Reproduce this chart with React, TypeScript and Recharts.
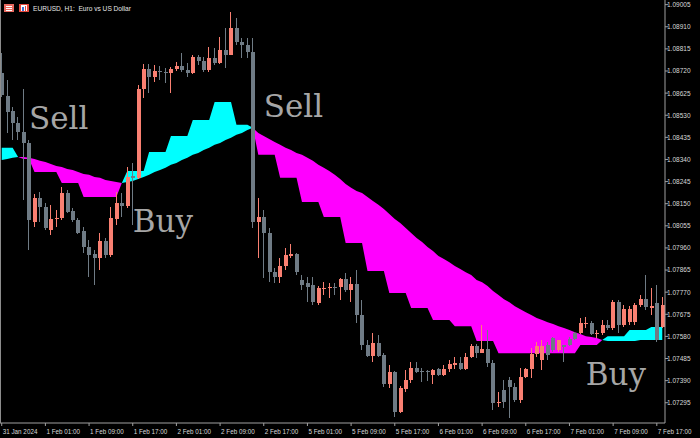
import React from 'react'
import { ComposedChart, Bar, Area, XAxis, YAxis, ReferenceDot } from 'recharts'

// EURUSD H1 candles, 31 Jan 17:00 .. 7 Feb 18:00
const open = [
  1.08712, 1.08613, 1.08549, 1.08497, 1.08458, 1.08411, 1.08071, 1.08175, 1.08136, 1.08037,
  1.08084, 1.08089, 1.08196, 1.08119, 1.0808, 1.08033, 1.07964, 1.07934, 1.07917, 1.0799,
  1.0793, 1.08084, 1.08153, 1.0814, 1.08269, 1.08261, 1.08643, 1.08729, 1.08695, 1.08721,
  1.08716, 1.08712, 1.08729, 1.08742, 1.08725, 1.08712, 1.08781, 1.08764, 1.08725, 1.08777,
  1.08755, 1.08811, 1.0879, 1.08906, 1.08845, 1.08833, 1.08802, 1.08071, 1.08093, 1.08024,
  1.07856, 1.07835, 1.07882, 1.07925, 1.07934, 1.07822, 1.07809, 1.07801, 1.07723, 1.07783,
  1.07788, 1.07792, 1.07792, 1.07826, 1.07779, 1.07805, 1.07672, 1.07543, 1.07495, 1.07551,
  1.075, 1.07375, 1.07426, 1.07254, 1.07353, 1.07392, 1.07444, 1.07431, 1.07431, 1.07414,
  1.07439, 1.07414, 1.07439, 1.07456, 1.07465, 1.07439, 1.07491, 1.07538, 1.07508, 1.07525,
  1.07465, 1.07293, 1.07349, 1.07392, 1.07362, 1.07306, 1.07405, 1.07439, 1.07504, 1.07478,
  1.07543, 1.07573, 1.07521, 1.07543, 1.07568, 1.07594, 1.07594, 1.07633, 1.07637, 1.0759,
  1.07594, 1.07629, 1.07616, 1.07727, 1.07629, 1.07641, 1.07641, 1.07715, 1.0774, 1.07702,
  1.07723, 1.0762,
]
const high = [
  1.08798, 1.08682, 1.08566, 1.08523, 1.08643, 1.08424, 1.08192, 1.082, 1.08153, 1.08145,
  1.08123, 1.08222, 1.08209, 1.08132, 1.08089, 1.0805, 1.07994, 1.07951, 1.08024, 1.08003,
  1.08136, 1.082, 1.08196, 1.08308, 1.08325, 1.08661, 1.08751, 1.08751, 1.08747, 1.08742,
  1.08734, 1.08738, 1.08759, 1.08798, 1.08755, 1.0879, 1.0879, 1.08781, 1.08824, 1.0882,
  1.08867, 1.08906, 1.08974, 1.08949, 1.08863, 1.08863, 1.08863, 1.08175, 1.08123, 1.08046,
  1.07874, 1.07917, 1.0796, 1.07977, 1.07938, 1.07844, 1.07835, 1.07835, 1.07796, 1.07813,
  1.07809, 1.07809, 1.07831, 1.07852, 1.07835, 1.07865, 1.07736, 1.07564, 1.07594, 1.07586,
  1.07508, 1.07456, 1.07431, 1.07366, 1.07435, 1.07469, 1.07469, 1.07444, 1.07435, 1.07439,
  1.07444, 1.07456, 1.07478, 1.07491, 1.07491, 1.07508, 1.07547, 1.07547, 1.07629, 1.07607,
  1.07478, 1.0734, 1.07392, 1.07405, 1.07379, 1.07444, 1.07444, 1.0753, 1.07555, 1.07564,
  1.07555, 1.07577, 1.07564, 1.07543, 1.07577, 1.07598, 1.07659, 1.07663, 1.07646, 1.07607,
  1.0765, 1.0765, 1.07736, 1.07736, 1.07715, 1.0771, 1.07723, 1.07758, 1.07844, 1.07788,
  1.07801, 1.07749,
]
const low = [
  1.08609, 1.08454, 1.08424, 1.08424, 1.08166, 1.07951, 1.0805, 1.08071, 1.08037, 1.08016,
  1.0805, 1.0808, 1.0811, 1.08071, 1.0802, 1.07938, 1.07835, 1.07801, 1.07865, 1.07917,
  1.07921, 1.08059, 1.08093, 1.08132, 1.08059, 1.08256, 1.08605, 1.08626, 1.08673, 1.08682,
  1.08669, 1.08626, 1.08721, 1.08716, 1.08695, 1.08708, 1.08747, 1.08716, 1.08716, 1.08747,
  1.08751, 1.08734, 1.0879, 1.08833, 1.08777, 1.08777, 1.08046, 1.07917, 1.07831, 1.07813,
  1.07809, 1.07809, 1.07865, 1.07917, 1.07844, 1.07779, 1.07727, 1.07715, 1.07715, 1.07758,
  1.07745, 1.07758, 1.07736, 1.0777, 1.07727, 1.07637, 1.07521, 1.07491, 1.07469, 1.07491,
  1.07362, 1.07358, 1.07233, 1.0725, 1.0734, 1.07379, 1.07422, 1.07383, 1.07388, 1.07375,
  1.07409, 1.07409, 1.07426, 1.07439, 1.07435, 1.07435, 1.07487, 1.07487, 1.07508, 1.07448,
  1.07263, 1.07276, 1.07272, 1.07229, 1.07297, 1.07293, 1.07401, 1.07401, 1.07491, 1.07435,
  1.07478, 1.07512, 1.07512, 1.07469, 1.07538, 1.07564, 1.0759, 1.07616, 1.07586, 1.07573,
  1.07586, 1.07607, 1.07607, 1.07594, 1.0762, 1.07629, 1.07629, 1.07706, 1.07693, 1.07672,
  1.07555, 1.07616,
]
const close = [
  1.08618, 1.08544, 1.08497, 1.08458, 1.08411, 1.0808, 1.08175, 1.08136, 1.08046, 1.08084,
  1.08089, 1.08196, 1.08114, 1.0808, 1.08024, 1.07964, 1.0793, 1.07917, 1.0799, 1.0793,
  1.08089, 1.08153, 1.0814, 1.08265, 1.08261, 1.08643, 1.08729, 1.08695, 1.08721, 1.08716,
  1.08712, 1.08729, 1.08742, 1.08725, 1.08712, 1.08781, 1.08764, 1.08725, 1.08777, 1.08755,
  1.08811, 1.0879, 1.08906, 1.08845, 1.08833, 1.08802, 1.08071, 1.08093, 1.08024, 1.07856,
  1.07835, 1.07882, 1.0793, 1.07934, 1.07856, 1.07801, 1.07792, 1.07727, 1.07788, 1.07788,
  1.07792, 1.07788, 1.07826, 1.07779, 1.07805, 1.07672, 1.07543, 1.07495, 1.07551, 1.07495,
  1.07375, 1.07426, 1.07254, 1.07358, 1.07392, 1.07444, 1.07426, 1.07426, 1.07426, 1.07435,
  1.07414, 1.07439, 1.07461, 1.07465, 1.07439, 1.07491, 1.07538, 1.07508, 1.07525, 1.07465,
  1.07293, 1.07297, 1.07297, 1.07362, 1.07306, 1.07405, 1.07439, 1.07504, 1.07538, 1.07538,
  1.075, 1.07521, 1.07564, 1.07534, 1.07543, 1.07568, 1.07637, 1.07637, 1.0759, 1.07594,
  1.07629, 1.07616, 1.07727, 1.07629, 1.07697, 1.07697, 1.07715, 1.0774, 1.07706, 1.0771,
  1.07564, 1.07715,
]

// indicator: smooth line and stepped line, cloud filled between them
const smooth = [
  1.08338, 1.08342, 1.08347, 1.08351, 1.08351, 1.08347, 1.08342, 1.08334, 1.08329, 1.08321,
  1.08312, 1.08308, 1.08299, 1.08295, 1.08286, 1.08278, 1.08274, 1.08265, 1.08261, 1.08252,
  1.08248, 1.08243, 1.08239, 1.08243, 1.08248, 1.08256, 1.08265, 1.08274, 1.08286, 1.08295,
  1.08304, 1.08317, 1.08325, 1.08338, 1.08347, 1.0836, 1.08368, 1.08381, 1.0839, 1.08403,
  1.08411, 1.08424, 1.08433, 1.08446, 1.08454, 1.08467, 1.08476, 1.08454, 1.08441, 1.08428,
  1.08415, 1.08403, 1.0839, 1.08381, 1.08368, 1.0836, 1.08347, 1.08334, 1.08317, 1.08304,
  1.08291, 1.08274, 1.08256, 1.08235, 1.08218, 1.08205, 1.08196, 1.08179, 1.08162, 1.08145,
  1.08127, 1.08106, 1.08084, 1.08067, 1.08046, 1.08024, 1.08003, 1.07985, 1.07964, 1.07947,
  1.07925, 1.07912, 1.07899, 1.07882, 1.07869, 1.07856, 1.07844, 1.07822, 1.07813, 1.07796,
  1.07775, 1.07758, 1.0774, 1.07727, 1.0771, 1.07697, 1.07684, 1.07672, 1.07659, 1.0765,
  1.07641, 1.07633, 1.07624, 1.07616, 1.07607, 1.07598, 1.0759, 1.07581, 1.07577, 1.07573,
  1.07564, 1.0756, 1.0756, 1.0756, 1.0756, 1.0756, 1.0756, 1.07564, 1.07564, 1.07564,
  1.07564, 1.07564,
]
const step = [
  1.0839, 1.0839, 1.0839, 1.08351, 1.08342, 1.08342, 1.08286, 1.08286, 1.08286, 1.08286,
  1.08286, 1.08239, 1.08239, 1.08239, 1.08239, 1.08179, 1.08179, 1.08179, 1.08179, 1.08179,
  1.08179, 1.08179, 1.08239, 1.08291, 1.08291, 1.08291, 1.08291, 1.08372, 1.08372, 1.08372,
  1.08372, 1.08441, 1.08441, 1.08441, 1.08441, 1.0851, 1.0851, 1.0851, 1.0851, 1.08587,
  1.08587, 1.08587, 1.08587, 1.08489, 1.08489, 1.08489, 1.08476, 1.0836, 1.0836, 1.0836,
  1.0836, 1.08261, 1.08261, 1.08261, 1.08261, 1.08157, 1.08157, 1.08157, 1.08157, 1.08093,
  1.08093, 1.08093, 1.08093, 1.07981, 1.07981, 1.07981, 1.07981, 1.07861, 1.07861, 1.07861,
  1.07861, 1.07766, 1.07766, 1.07766, 1.07766, 1.07702, 1.07702, 1.07702, 1.07702, 1.0765,
  1.0765, 1.0765, 1.0765, 1.07624, 1.07624, 1.07624, 1.07624, 1.0756, 1.0756, 1.0756,
  1.0756, 1.07508, 1.07508, 1.07508, 1.07508, 1.07508, 1.07508, 1.07508, 1.07508, 1.07508,
  1.07508, 1.07508, 1.07508, 1.07508, 1.07508, 1.07508, 1.07543, 1.07543, 1.07543, 1.07543,
  1.07564, 1.07581, 1.07581, 1.07581, 1.07581, 1.07607, 1.07607, 1.07607, 1.07607, 1.0762,
  1.0762, 1.0762,
]

const tickBars = [0, 8, 16, 24, 32, 40, 48, 56, 64, 72, 80, 88, 96, 104, 112, 120]
const tickLabels = [
  '31 Jan 2024', '1 Feb 01:00', '1 Feb 09:00', '1 Feb 17:00', '2 Feb 01:00', '2 Feb 09:00',
  '2 Feb 17:00', '5 Feb 01:00', '5 Feb 09:00', '5 Feb 17:00', '6 Feb 01:00', '6 Feb 09:00',
  '6 Feb 17:00', '7 Feb 01:00', '7 Feb 09:00', '7 Feb 17:00',
]
const priceTicks = [
  1.09005, 1.0891, 1.08815, 1.0872, 1.08625, 1.0853, 1.08435, 1.0834, 1.08245, 1.0815,
  1.08055, 1.0796, 1.07865, 1.0777, 1.07675, 1.0758, 1.07485, 1.0739, 1.07295,
]
const signals = [
  { text: 'Sell', bar: 5, price: 1.08471 },
  { text: 'Buy', bar: 24, price: 1.08028 },
  { text: 'Sell', bar: 48, price: 1.08523 },
  { text: 'Buy', bar: 107, price: 1.07371 },
]

const UP = '#fa8072'
const DOWN = '#6f7b85'
const AXIS = '#a0a0a0'
const SMALL_FONT = '"Liberation Sans", Arial, sans-serif'

const rows = open.map((o, i) => ({
  i,
  o,
  h: high[i],
  l: low[i],
  c: close[i],
  range: [low[i], high[i]],
  bull: step[i] >= smooth[i] ? [smooth[i], step[i]] : null,
  bear: step[i] <= smooth[i] ? [step[i], smooth[i]] : null,
}))

const Candle = (props: any) => {
  const { x, y, width, height, payload } = props
  if (!payload) return null
  const { o, h, l, c } = payload
  const top = Math.min(y, y + height)
  const span = Math.abs(height)
  const k = h > l ? span / (h - l) : 0
  const toY = (v: number) => top + (h - v) * k
  const mid = Math.floor(x + width / 2)
  const color = c >= o ? UP : DOWN
  const bodyTop = toY(Math.max(o, c))
  const bodyH = Math.max(1, toY(Math.min(o, c)) - bodyTop)
  return (
    <g shapeRendering="crispEdges">
      <rect x={mid} y={top} width={1} height={Math.max(1, span)} fill={color} />
      <rect x={mid - 1.5} y={bodyTop} width={4} height={bodyH} fill={color} />
    </g>
  )
}

const XTick = ({ x, y, payload }: any) => (
  <text x={x + 1} y={y + 5.5} fill="#d8d8d8" fontSize={6.3} fontFamily={SMALL_FONT}>
    {tickLabels[tickBars.indexOf(payload.value)]}
  </text>
)

const YTick = ({ x, y, payload }: any) => (
  <text x={x - 2} y={y + 2.4} fill="#d8d8d8" fontSize={6.5} fontFamily={SMALL_FONT}>
    {Number(payload.value).toFixed(5)}
  </text>
)

const SignalText = (text: string) => (p: any) => (
  <text
    x={p.viewBox.x}
    y={p.viewBox.y}
    fill="#a6a6a6"
    fontSize={31}
    fontFamily='"DejaVu Serif", serif'
  >
    {text}
  </text>
)

export default function App() {
  return (
    <div
      style={{
        position: 'absolute',
        left: 0,
        top: 0,
        width: 700,
        height: 438,
        background: '#000',
        overflow: 'hidden',
      }}
    >
      <ComposedChart
        width={700}
        height={438}
        data={rows}
        margin={{ top: 0, right: 0, bottom: 0, left: -1 }}
        style={{ position: 'absolute', left: 0, top: 0 }}
      >
        <XAxis
          dataKey="i"
          type="category"
          ticks={tickBars}
          interval={0}
          height={15}
          tickSize={3}
          tickMargin={2}
          axisLine={{ stroke: AXIS }}
          tickLine={{ stroke: AXIS }}
          tick={(p: any) => <XTick {...p} />}
        />
        <YAxis
          orientation="right"
          type="number"
          domain={[1.07208, 1.09025]}
          allowDataOverflow
          ticks={priceTicks}
          interval={0}
          width={35}
          tickSize={3}
          tickMargin={1}
          axisLine={{ stroke: AXIS }}
          tickLine={{ stroke: AXIS }}
          tick={(p: any) => <YTick {...p} />}
        />
        <Area
          type="linear"
          dataKey="bull"
          stroke="none"
          fill="#00ffff"
          fillOpacity={1}
          dot={false}
          activeDot={false}
          isAnimationActive={false}
        />
        <Area
          type="linear"
          dataKey="bear"
          stroke="none"
          fill="#ff00ff"
          fillOpacity={1}
          dot={false}
          activeDot={false}
          isAnimationActive={false}
        />
        <Bar dataKey="range" shape={(p: any) => <Candle {...p} />} isAnimationActive={false} />
        {signals.map((s) => (
          <ReferenceDot
            key={s.text + s.bar}
            x={s.bar}
            y={s.price}
            r={0}
            fill="none"
            stroke="none"
            ifOverflow="visible"
            label={SignalText(s.text)}
          />
        ))}
      </ComposedChart>
      <div
        style={{ position: 'absolute', left: 0, top: 0, width: 1, height: 423, background: '#8c8c8c' }}
      />
      <svg width={220} height={16} style={{ position: 'absolute', left: 0, top: 0 }}>
        <rect x={4} y={4} width={10} height={8} fill="#e96a60" />
        <rect x={6} y={6} width={6} height={1} fill="#fff" />
        <rect x={6} y={8} width={6} height={1} fill="#fff" />
        <rect x={6} y={10} width={6} height={1} fill="#fff" />
        <rect x={19} y={4} width={10} height={8} fill="#e5483c" />
        <rect x={21} y={5} width={6} height={6} fill="#fff" />
        <rect x={22} y={7} width={2} height={4} fill="#3c6fd8" />
        <rect x={25} y={6} width={1} height={5} fill="#e5483c" />
        <text
          x={33}
          y={10.5}
          fill="#e6e6e6"
          fontSize={6.6}
          fontFamily={SMALL_FONT}
          style={{ whiteSpace: 'pre' }}
        >
          EURUSD, H1:  Euro vs US Dollar
        </text>
      </svg>
    </div>
  )
}
